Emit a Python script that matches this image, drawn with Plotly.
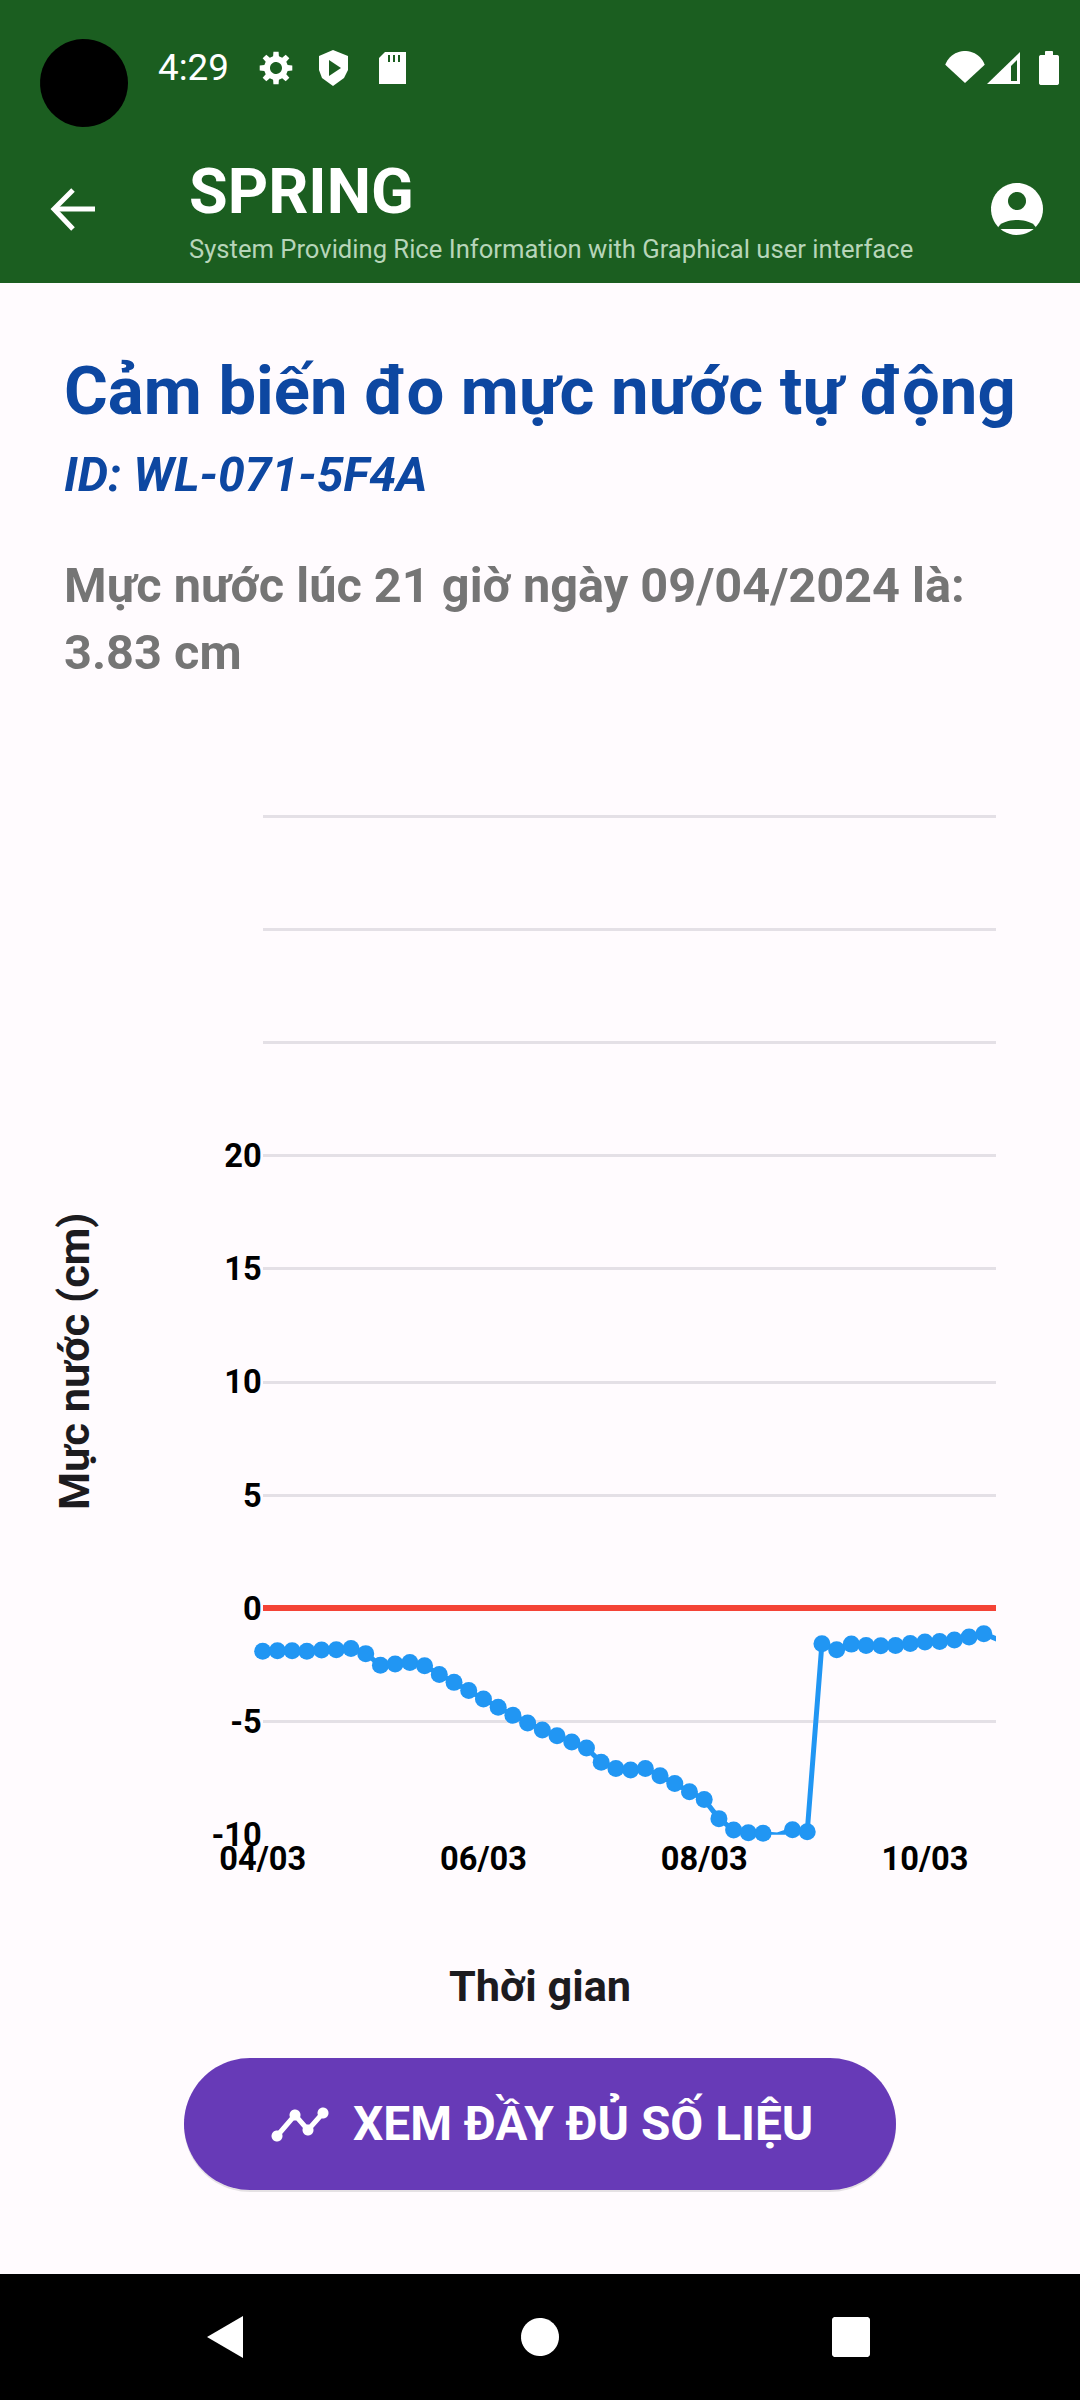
import numpy as np
import plotly.graph_objects as go

W, H = 1080, 2400

# === data ===
water_level = [
    -1.89, -1.87, -1.87, -1.89, -1.84, -1.83, -1.77, -2.00, -2.51, -2.46,
    -2.39, -2.54, -2.92, -3.27, -3.63, -4.00, -4.37, -4.72, -5.07, -5.37,
    -5.63, -5.90, -6.17, -6.80, -7.08, -7.14, -7.08, -7.40, -7.74, -8.10,
    -8.44, -9.29, -9.79, -9.91, -9.94, -10.01, -9.78, -9.87, -1.56, -1.83,
    -1.58, -1.64, -1.65, -1.64, -1.55, -1.49, -1.46, -1.40, -1.27, -1.12,
    -1.39,
]
x_tickvals = [0, 15, 30, 45]
x_ticktext = ["04/03", "06/03", "08/03", "10/03"]
y_tickvals = [-10, -5, 0, 5, 10, 15, 20, 25, 30, 35]
y_ticktext = ["-10", "-5", "0", "5", "10", "15", "20", "", "", ""]

BG = "#FFFBFE"
GREEN = "#1B5E20"
BLUE = "#2196F3"
RED = "#F44336"
GRID = "#E4E0E6"

# plot area, in page pixels
LEFT, RIGHT, TOP, BOTTOM = 262.7, 996, 813.9, 1834.7
X_MAX = (RIGHT - LEFT) / (220.75 / 15)


# === page furniture helpers (pixel coords -> paper coords) ===
def path_of(points):
    return "M" + " L".join(f"{x / W:.5f},{1 - y / H:.5f}" for x, y in points) + " Z"


def poly(points, fill, line=None, width=0):
    return dict(type="path", xref="paper", yref="paper", path=path_of(points),
                fillcolor=fill, line=dict(color=line or fill, width=width), layer="above")


def arc(cx, cy, rx, ry, a0, a1, n=24):
    t = np.radians(np.linspace(a0, a1, n))
    return list(zip(cx + rx * np.cos(t), cy + ry * np.sin(t)))


def circle(cx, cy, r, fill):
    return poly(arc(cx, cy, r, r, 0, 360, 48), fill)


def rrect(x0, y0, x1, y1, r, fill):
    pts = (arc(x1 - r, y0 + r, r, r, -90, 0) + arc(x1 - r, y1 - r, r, r, 0, 90)
           + arc(x0 + r, y1 - r, r, r, 90, 180) + arc(x0 + r, y0 + r, r, r, 180, 270))
    return poly(pts, fill)


def stroke(points, color, width):
    p = "M" + " L".join(f"{x / W:.5f},{1 - y / H:.5f}" for x, y in points)
    return dict(type="path", xref="paper", yref="paper", path=p,
                line=dict(color=color, width=width), layer="above")


def gear(cx, cy, r_out, r_in, teeth=8):
    pts = []
    for i in range(teeth):
        a = 360 / teeth * i
        for da, r in [(-14, r_in), (-9, r_out), (9, r_out), (14, r_in)]:
            t = np.radians(a + da)
            pts.append((cx + r * np.cos(t), cy + r * np.sin(t)))
    return poly(pts, "white")


shapes = [
    # chart right edge clips the last marker, the left one stays whole
    dict(type="rect", xref="paper", yref="paper", layer="above", line=dict(width=0), fillcolor=BG,
         x0=RIGHT / W, x1=1040 / W, y0=1 - 1660 / H, y1=1 - 1620 / H),
    # header
    dict(type="rect", xref="paper", yref="paper", layer="above", line=dict(width=0), fillcolor=GREEN,
         x0=0, x1=1, y0=1 - 283 / H, y1=1),
    circle(84, 83, 44, "black"),
    gear(276, 68, 16.5, 12), circle(276, 68, 6, GREEN),
    poly([(333, 50), (348, 56), (348, 70), (344, 78), (333, 86), (322, 78), (319, 70), (319, 56)], "white"),
    poly([(329, 60), (341, 68), (329, 76)], GREEN),
    poly([(385, 52), (406, 52), (406, 84), (379, 84), (379, 58)], "white"),
    poly([(388, 55), (390, 55), (390, 62), (388, 62)], GREEN),
    poly([(393, 55), (395, 55), (395, 62), (393, 62)], GREEN),
    poly([(398, 55), (400, 55), (400, 62), (398, 62)], GREEN),
    poly([(965, 83)] + arc(965, 72, 21, 21, 200, 340), "white"),
    poly([(987, 84), (1020, 84), (1020, 52)], "white"),
    poly([(1011, 81), (1017, 81), (1017, 60), (1011, 66)], GREEN),
    rrect(1039, 55, 1059, 85, 2, "white"),
    rrect(1045, 51, 1053, 57, 1, "white"),
    stroke([(95, 209), (55, 209)], "white", 5),
    stroke([(73, 190), (54, 209), (73, 229)], "white", 5),
    circle(1017, 209, 26, "white"),
    circle(1017, 201, 9, GREEN),
    poly(arc(1017, 229, 19, 9, 180, 360), GREEN),
    # button
    rrect(184, 2060, 896, 2192, 66, "rgba(0,0,0,0.10)"),
    rrect(184, 2058, 896, 2190, 66, "#673AB7"),
    stroke([(277, 2136), (295, 2115), (308, 2130), (323, 2113)], "white", 5),
    circle(277, 2136, 5.5, "white"), circle(295, 2115, 5.5, "white"),
    circle(308, 2130, 5.5, "white"), circle(323, 2113, 5.5, "white"),
    # nav bar
    dict(type="rect", xref="paper", yref="paper", layer="above", line=dict(width=0), fillcolor="black",
         x0=0, x1=1, y0=0, y1=1 - 2274 / H),
    poly([(243, 2316), (243, 2358), (207, 2337)], "white"),
    circle(540, 2337, 19, "white"),
    rrect(832, 2317, 870, 2357, 3, "white"),
]


def text(x, y, s, size, color, weight=400, style="normal", anchor="left", angle=0):
    return dict(xref="paper", yref="paper", x=x / W, y=1 - y / H, text=s, showarrow=False,
                xanchor=anchor, yanchor="middle", borderpad=0, textangle=angle,
                font=dict(family="Roboto", size=size, color=color, weight=weight, style=style))


annotations = [
    text(157, 68, "4:29", 36.8, "#FFFFFF"),
    text(188, 191, "SPRING", 62.8, "#FFFFFF", 700),
    text(188, 249, "System Providing Rice Information with Graphical user interface", 25.6, "#B7D5B9"),
    text(63, 391, "Cảm biến đo mực nước tự động", 67, "#0D47A1", 700),
    text(63, 474, "ID: WL-071-5F4A", 48.2, "#0D47A1", 700, "italic"),
    text(63, 585, "Mực nước lúc 21 giờ ngày 09/04/2024 là:", 48.7, "#757575", 700),
    text(63, 652, "3.83 cm", 48.7, "#757575", 700),
    text(352, 2122, "XEM ĐẦY ĐỦ SỐ LIỆU", 47.8, "#FFFFFF", 700),
    text(74, 1361, "Mực nước (cm)", 43.4, "#1C1B1F", 700, anchor="center", angle=-90),
    text(540, 1986, "Thời gian", 43.3, "#1C1B1F", 700, anchor="center"),
]

fig = go.Figure()

fig.add_trace(go.Scatter(
    x=list(range(len(water_level))), y=water_level,
    mode="lines+markers",
    line=dict(color=BLUE, width=5),
    marker=dict(color=BLUE, size=17),
    cliponaxis=False,
    showlegend=False,
))

tick_font = dict(family="Roboto", size=32.6, color="#000000", weight=700)

fig.update_layout(
    width=W, height=H,
    margin=dict(l=0, r=0, t=0, b=0, autoexpand=False),
    paper_bgcolor=BG, plot_bgcolor=BG,
    showlegend=False,
    shapes=shapes,
    annotations=annotations,
    xaxis=dict(
        domain=[LEFT / W, RIGHT / W], range=[0, X_MAX],
        tickmode="array", tickvals=x_tickvals, ticktext=x_ticktext,
        tickfont=tick_font, showgrid=False, zeroline=False, ticks="",
        ticklabelstandoff=2,
    ),
    yaxis=dict(
        domain=[1 - BOTTOM / H, 1 - TOP / H], range=[-10, 35.1],
        tickmode="array", tickvals=y_tickvals, ticktext=y_ticktext,
        tickfont=tick_font, showgrid=True, gridcolor=GRID, gridwidth=2.5,
        zeroline=True, zerolinecolor=RED, zerolinewidth=5.5, ticks="",
    ),
)

fig.write_html("out.html", config=dict(displayModeBar=False),
               post_script="document.body.style.margin='0';")
